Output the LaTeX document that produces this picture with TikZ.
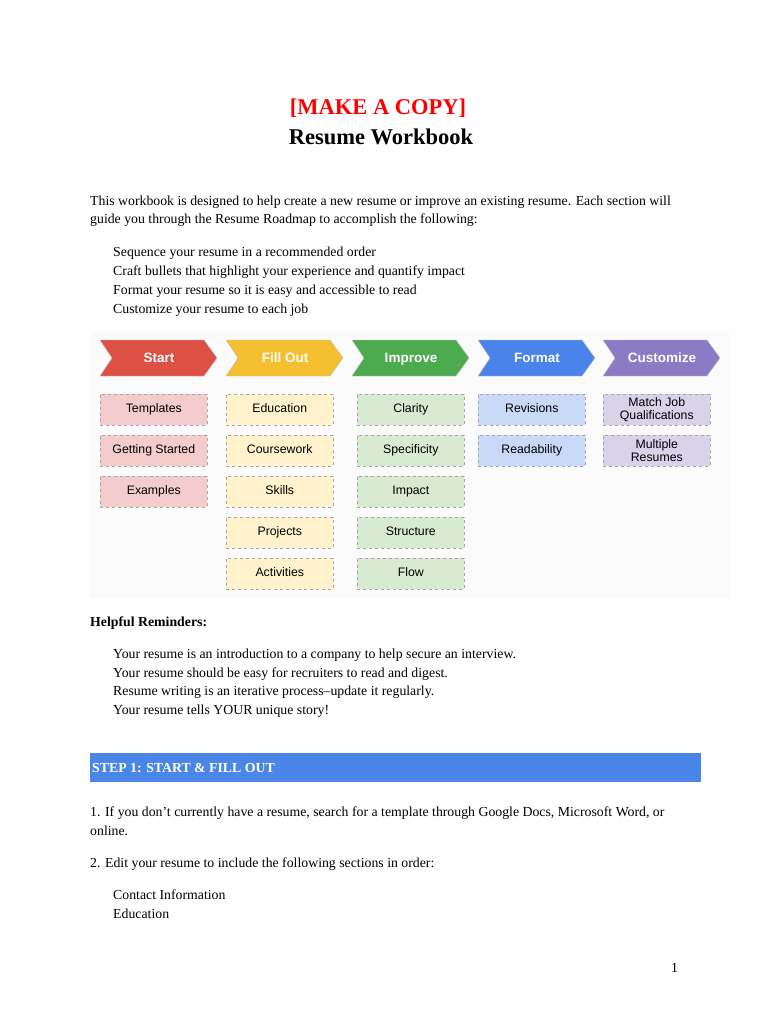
\documentclass[tikz,border=0pt]{standalone}
\usepackage{fontspec}
\setmainfont{Liberation Serif}
\newfontfamily\dsans{Liberation Sans}
\definecolor{cRed}{HTML}{DD5144}
\definecolor{cYel}{HTML}{F4C02F}
\definecolor{cGrn}{HTML}{4CAB4F}
\definecolor{cBlu}{HTML}{4A84EA}
\definecolor{cPur}{HTML}{8B7BC4}
\definecolor{fRed}{HTML}{F4CCCC}
\definecolor{fYel}{HTML}{FFF2CC}
\definecolor{fGrn}{HTML}{D9EAD3}
\definecolor{fBlu}{HTML}{C9DAF8}
\definecolor{fPur}{HTML}{D9D2E9}
\definecolor{band}{HTML}{4A86E8}
\begin{document}
\begin{tikzpicture}[x=1pt,y=-1pt,
  txt/.style={anchor=base west,inner sep=0pt,font=\fontsize{13.8}{15}\selectfont},
  btxt/.style={txt,font=\fontsize{13.8}{15}\selectfont\bfseries},
  chevtxt/.style={font=\dsans\fontsize{13.5}{15}\selectfont\bfseries,text=white,text height=10pt,text depth=3pt},
  itembox/.style={draw=gray!70,dashed,line width=0.6pt,minimum width=107pt,minimum height=31pt,anchor=north west,inner sep=1pt,align=center,font=\dsans\fontsize{12.3}{14}\selectfont}]
\useasboundingbox (0,0) rectangle (768,1024);
\fill[white] (0,0) rectangle (768,1024);
% title
\node[anchor=base,inner sep=0pt,font=\fontsize{22.5}{24}\selectfont\bfseries,text=red] (t1) at (378,115) {[MAKE A COPY]};
\node[anchor=base,inner sep=0pt,font=\fontsize{22.5}{24}\selectfont\bfseries] (t2) at (381,145) {Resume Workbook};
\node[txt] (p1) at (90,206) {This workbook is designed to help create a new resume or improve an existing resume. Each section will};
\node[txt] (p2) at (90,224) {guide you through the Resume Roadmap to accomplish the following:};
\node[txt] (b1) at (113,256) {Sequence your resume in a recommended order};
\node[txt] (b2) at (113,275) {Craft bullets that highlight your experience and quantify impact};
\node[txt] (b3) at (113,294) {Format your resume so it is easy and accessible to read};
\node[txt] (b4) at (113,313) {Customize your resume to each job};
% diagram
\fill[black!1.5] (90,332) rectangle (730,598);
\foreach \x/\c/\t [count=\i] in {100/cRed/Start,226/cYel/Fill Out,352/cGrn/Improve,478/cBlu/Format,603/cPur/Customize}{
  \fill[\c,draw=black!25,line width=0.4pt] (\x,340) -- (\x+104,340) -- (\x+117,358) -- (\x+104,376) -- (\x,376) -- (\x+12,358) -- cycle;
  \node[chevtxt] (ch\i) at (\x+59,359) {\t};
}
\foreach \t [count=\i] in {Templates,Getting Started,Examples}
  \node[itembox,fill=fRed] (s\i) at (100,353+41*\i) {\strut\t};
\foreach \t [count=\i] in {Education,Coursework,Skills,Projects,Activities}
  \node[itembox,fill=fYel] (f\i) at (226,353+41*\i) {\strut\t};
\foreach \t [count=\i] in {Clarity,Specificity,Impact,Structure,Flow}
  \node[itembox,fill=fGrn] (g\i) at (357,353+41*\i) {\strut\t};
\foreach \t [count=\i] in {Revisions,Readability}
  \node[itembox,fill=fBlu] (r\i) at (478,353+41*\i) {\strut\t};
\node[itembox,fill=fPur] (c1) at (603,394) {Match Job\\[-1pt]Qualifications};
\node[itembox,fill=fPur] (c2) at (603,435) {Multiple\\[-1pt]Resumes};
% reminders
\node[btxt] (hr) at (90,626) {Helpful Reminders:};
\node[txt] (h1) at (113,658) {Your resume is an introduction to a company to help secure an interview.};
\node[txt] (h2) at (113,677) {Your resume should be easy for recruiters to read and digest.};
\node[txt] (h3) at (113,695) {Resume writing is an iterative process--update it regularly.};
\node[txt] (h4) at (113,714) {Your resume tells YOUR unique story!};
\fill[band] (90,753) rectangle (701,782);
\node[btxt,text=white] (st) at (92,772) {STEP 1: START \& FILL OUT};
\node[txt] (q1) at (90,816) {1. If you don't currently have a resume, search for a template through Google Docs, Microsoft Word, or};
\node[txt] (q2) at (90,835) {online.};
\node[txt] (q3) at (90,867) {2. Edit your resume to include the following sections in order:};
\node[txt] (q4) at (113,899) {Contact Information};
\node[txt] (q5) at (113,918) {Education};
\node[txt] (pg) at (671,972) {1};
\end{tikzpicture}
\end{document}
